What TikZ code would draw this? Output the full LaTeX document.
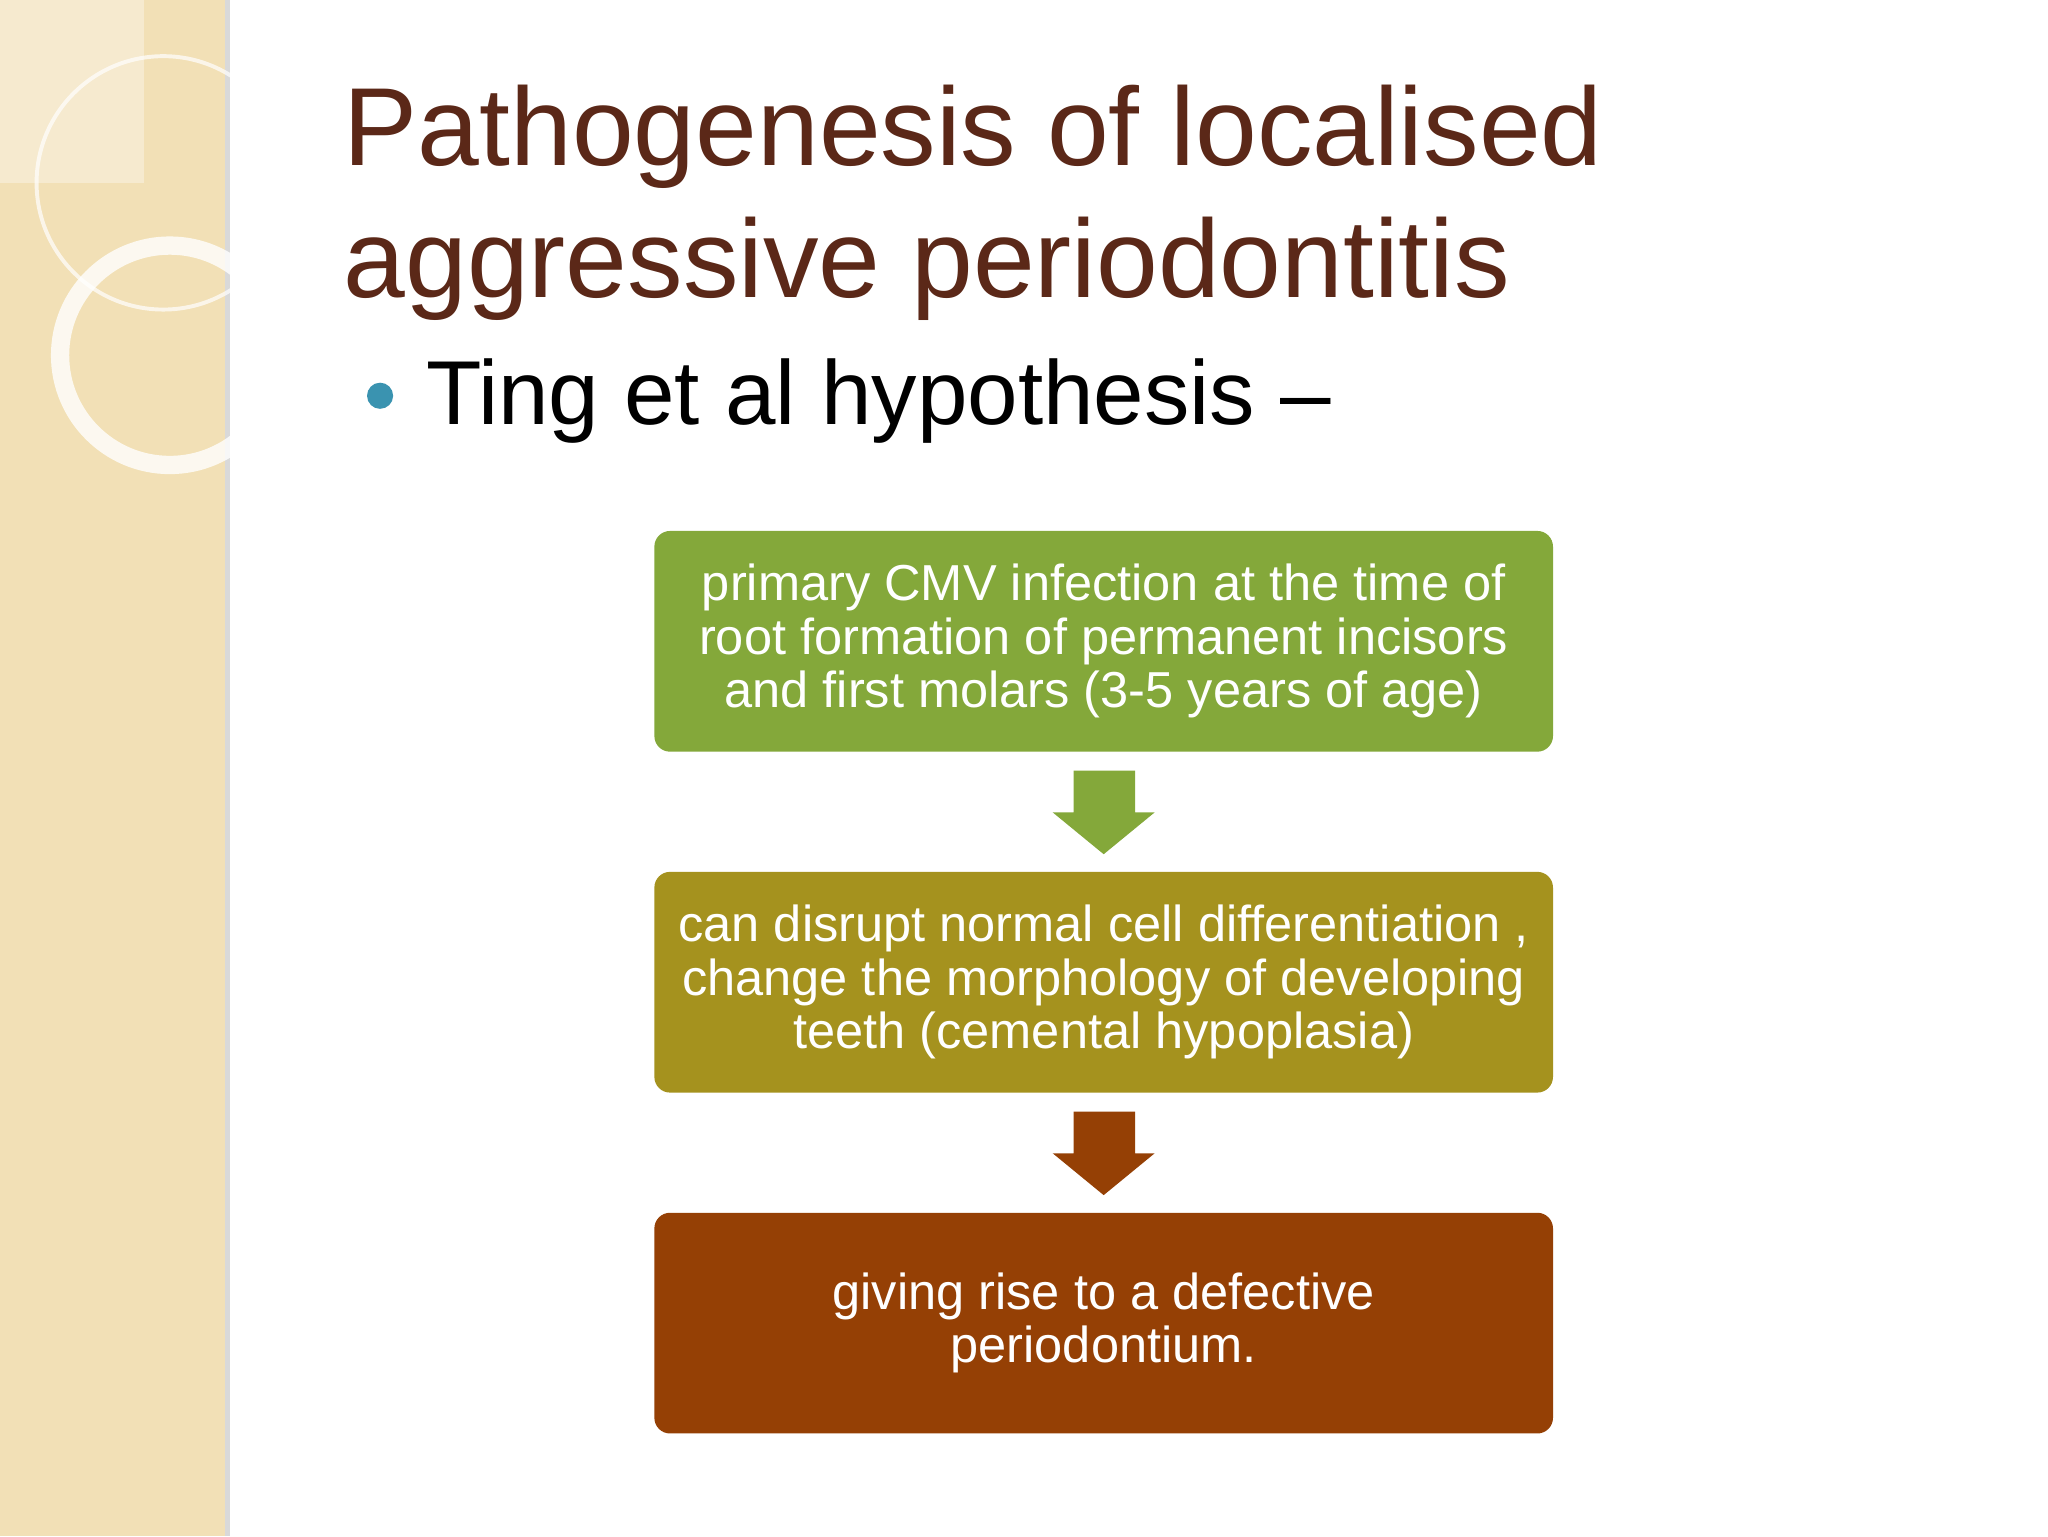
\documentclass[tikz,border=0pt]{standalone}
\usepackage{fontspec}
\setmainfont{Liberation Sans}
\definecolor{beige}{HTML}{F2E0B6}
\definecolor{titlec}{HTML}{5B2818}
\definecolor{bul}{HTML}{3A93B0}
\definecolor{gbox}{HTML}{84A83A}
\definecolor{obox}{HTML}{A5921E}
\definecolor{bbox}{HTML}{954005}
\begin{document}
\begin{tikzpicture}[x=1pt,y=-1pt,
 boxs/.style={rounded corners=12pt,minimum width=688pt,minimum height=169pt,align=center,text=white,font=\fontsize{38.7}{41}\selectfont,inner sep=0pt}]
\useasboundingbox (0,0) rectangle (1568,1176);
\fill[white] (0,0) rectangle (1568,1176);
\fill[beige] (0,0) rectangle (173,1176);
\fill[black!15] (172,0) rectangle (176,1176);
\fill[white,opacity=0.35] (0,0) rectangle (110,140);
\draw[white,opacity=0.7,line width=3pt] (125,140) circle (97);
\draw[white,opacity=0.8,line width=14pt] (130,272) circle (84);
\fill[white] (176,0) rectangle (1568,1176);
\node[anchor=base west,text=titlec,font=\fontsize{85}{90}\selectfont,inner sep=0] (t1) at (263,127) {Pathogenesis of localised};
\node[anchor=base west,text=titlec,font=\fontsize{85}{90}\selectfont,inner sep=0] (t2) at (263,228) {aggressive periodontitis};
\fill[bul] (291,303) circle (10);
\node[anchor=base west,font=\fontsize{69.5}{72}\selectfont,inner sep=0] (b) at (326,325) {Ting et al hypothesis –};
\node[boxs,fill=gbox] (n1) at (845,491) {primary CMV infection at the time of\\root formation of permanent incisors\\and first molars (3-5 years of age)};
\node[boxs,fill=obox] (n2) at (845,752) {can disrupt normal cell differentiation ,\\change the morphology of developing\\teeth (cemental hypoplasia)};
\node[boxs,fill=bbox] (n3) at (845,1013) {giving rise to a defective\\periodontium.};
\fill[gbox] (822,590) -- (869,590) -- (869,622) -- (884,622) -- (845,654) -- (806,622) -- (822,622) -- cycle;
\fill[bbox] (822,851) -- (869,851) -- (869,883) -- (884,883) -- (845,915) -- (806,883) -- (822,883) -- cycle;
\end{tikzpicture}
\end{document}
